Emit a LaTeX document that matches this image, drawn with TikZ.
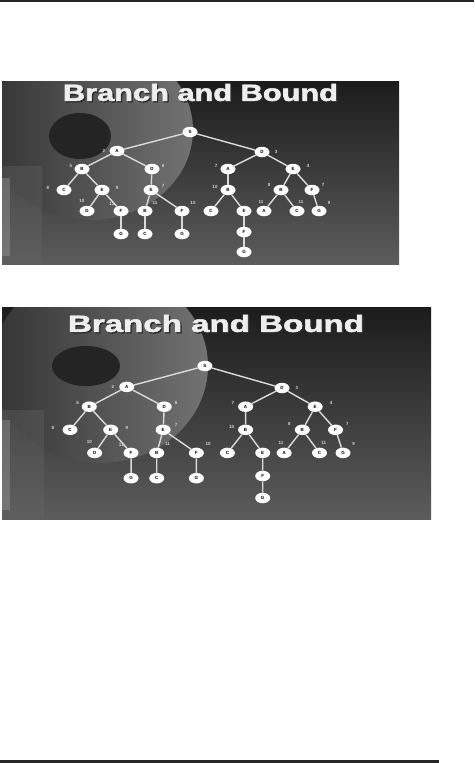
\documentclass[tikz,border=0pt]{standalone}
\usepackage{fontspec}
\setmainfont{Liberation Sans}
\newfontfamily\heavyfont[BoldFeatures={FakeBold=2}]{Liberation Sans}
\usetikzlibrary{shapes.geometric}
\definecolor{bgtop}{HTML}{1C1C1C}
\definecolor{bgbot}{HTML}{5C5C5C}
\definecolor{orbL}{HTML}{727272}
\definecolor{orbD}{HTML}{343434}
\definecolor{hole}{HTML}{242424}
\definecolor{edgec}{HTML}{DADADA}
\definecolor{numc}{HTML}{D4D4D4}
\definecolor{titlec}{HTML}{EEEEEE}
\definecolor{titlesh}{HTML}{2A2A2A}
\definecolor{strip}{HTML}{666666}
\tikzset{
 nd/.style={ellipse, fill=white, draw=none, inner sep=0pt, minimum width=15pt, minimum height=10.5pt, font=\fontsize{4.5}{4.5}\selectfont\bfseries, text=black},
 num/.style={inner sep=0pt, font=\fontsize{4.5}{4.5}\selectfont\bfseries, text=numc},
 edge/.style={draw=edgec, line width=1.4pt},
 rulefill/.style={line width=2.2pt, draw=black!85}
}
\newcommand\bbtree[1]{%
 \node[nd] (#1S) at (190,132) {S};
 \node[nd] (#1A) at (117,151) {A};
 \node[nd] (#1B) at (82,169) {B};
 \node[nd] (#1D) at (152,169) {D};
 \node[nd] (#1C) at (64,190) {C};
 \node[nd] (#1E) at (102,190) {E};
 \node[nd] (#1Ea) at (151,190) {E};
 \node[nd] (#1Da) at (87,211) {D};
 \node[nd] (#1F) at (121,211) {F};
 \node[nd] (#1Ba) at (145,211) {B};
 \node[nd] (#1Fa) at (182,211) {F};
 \node[nd] (#1G) at (121,234) {G};
 \node[nd] (#1Ca) at (145,234) {C};
 \node[nd] (#1Ga) at (182,234) {G};
 \node[nd] (#1rD) at (262,152) {D};
 \node[nd] (#1rA) at (228,169) {A};
 \node[nd] (#1rE) at (293,169) {E};
 \node[nd] (#1rB) at (228,190) {B};
 \node[nd] (#1rBa) at (281,190) {B};
 \node[nd] (#1rF) at (312,190) {F};
 \node[nd] (#1rC) at (211,211) {C};
 \node[nd] (#1rEa) at (244,211) {E};
 \node[nd] (#1rAa) at (264,211) {A};
 \node[nd] (#1rCa) at (297,211) {C};
 \node[nd] (#1rG) at (319,211) {G};
 \node[nd] (#1rFa) at (244,232) {F};
 \node[nd] (#1rGa) at (244,252) {G};
 \node[num] (#1n1) at (104,151) {2};
 \node[num] (#1n2) at (71,166) {5};
 \node[num] (#1n3) at (163,166) {6};
 \node[num] (#1n4) at (48,188) {8};
 \node[num] (#1n5) at (117,188) {9};
 \node[num] (#1n6) at (163,186) {7};
 \node[num] (#1n7) at (82,201) {10};
 \node[num] (#1n8) at (112,204) {12};
 \node[num] (#1n9) at (155,203) {11};
 \node[num] (#1n10) at (193,203) {10};
 \node[num] (#1n11) at (276,152) {3};
 \node[num] (#1n12) at (216,166) {7};
 \node[num] (#1n13) at (308,166) {4};
 \node[num] (#1n14) at (215,187) {10};
 \node[num] (#1n15) at (269,185) {8};
 \node[num] (#1n16) at (323,185) {7};
 \node[num] (#1n17) at (261,202) {11};
 \node[num] (#1n18) at (301,202) {11};
 \node[num] (#1n19) at (329,203) {9};
 \draw[edge] (#1S) -- (#1A);
 \draw[edge] (#1S) -- (#1rD);
 \draw[edge] (#1A) -- (#1B);
 \draw[edge] (#1A) -- (#1D);
 \draw[edge] (#1B) -- (#1C);
 \draw[edge] (#1B) -- (#1E);
 \draw[edge] (#1E) -- (#1Da);
 \draw[edge] (#1E) -- (#1F);
 \draw[edge] (#1F) -- (#1G);
 \draw[edge] (#1D) -- (#1Ea);
 \draw[edge] (#1Ea) -- (#1Ba);
 \draw[edge] (#1Ea) -- (#1Fa);
 \draw[edge] (#1Ba) -- (#1Ca);
 \draw[edge] (#1Fa) -- (#1Ga);
 \draw[edge] (#1rD) -- (#1rA);
 \draw[edge] (#1rD) -- (#1rE);
 \draw[edge] (#1rA) -- (#1rB);
 \draw[edge] (#1rB) -- (#1rC);
 \draw[edge] (#1rB) -- (#1rEa);
 \draw[edge] (#1rEa) -- (#1rFa);
 \draw[edge] (#1rFa) -- (#1rGa);
 \draw[edge] (#1rE) -- (#1rBa);
 \draw[edge] (#1rE) -- (#1rF);
 \draw[edge] (#1rBa) -- (#1rAa);
 \draw[edge] (#1rBa) -- (#1rCa);
 \draw[edge] (#1rF) -- (#1rG);
}
\begin{document}
\begin{tikzpicture}[x=1pt,y=-1pt]
\useasboundingbox (0,0) rectangle (474,763);
\fill[white] (0,0) rectangle (474,763);
\draw[rulefill] (0,1.1) -- (474,1.1);
\draw[rulefill] (0,761.5) -- (439,761.5);
% ---------- slide 1 background
\begin{scope}
 \clip (2,81) rectangle (399,264);
 \shade[top color=bgtop, bottom color=bgbot] (2,81) rectangle (399,264);
 \shade[left color=orbD, right color=orbL] (90,130) ellipse [x radius=103, y radius=90];
 \fill[strip, opacity=0.35] (2,166) rectangle (42,264);
 \fill[black!30, opacity=0.3] (2,178) rectangle (10,256);
 \fill[hole] (80,136) ellipse [x radius=31, y radius=23];
\end{scope}
\node[inner sep=0pt, text=titlesh] (t1s) at (201.8,93.8) {\resizebox{275pt}{17pt}{\heavyfont\bfseries Branch and Bound}};
\node[inner sep=0pt, text=titlec] (t1) at (200.5,92.5) {\resizebox{275pt}{17pt}{\heavyfont\bfseries Branch and Bound}};
\bbtree{a}
% ---------- slide 2 background
\begin{scope}
 \clip (2,307) rectangle (431,519);
 \shade[top color=bgtop, bottom color=bgbot] (2,307) rectangle (431,519);
 \shade[left color=orbD, right color=orbL] (100,366) ellipse [x radius=108, y radius=97];
 \fill[strip, opacity=0.35] (2,410) rectangle (44,519);
 \fill[black!30, opacity=0.3] (2,420) rectangle (10,510);
 \fill[hole] (86,366) ellipse [x radius=34, y radius=20];
\end{scope}
\node[inner sep=0pt, text=titlesh] (t2s) at (217.3,324.8) {\resizebox{296pt}{17pt}{\heavyfont\bfseries Branch and Bound}};
\node[inner sep=0pt, text=titlec] (t2) at (216,323.5) {\resizebox{296pt}{17pt}{\heavyfont\bfseries Branch and Bound}};
\begin{scope}[shift={(1.5,220.8)}, xscale=1.0706, yscale=1.1]
 \bbtree{b}
\end{scope}
\end{tikzpicture}
\end{document}
